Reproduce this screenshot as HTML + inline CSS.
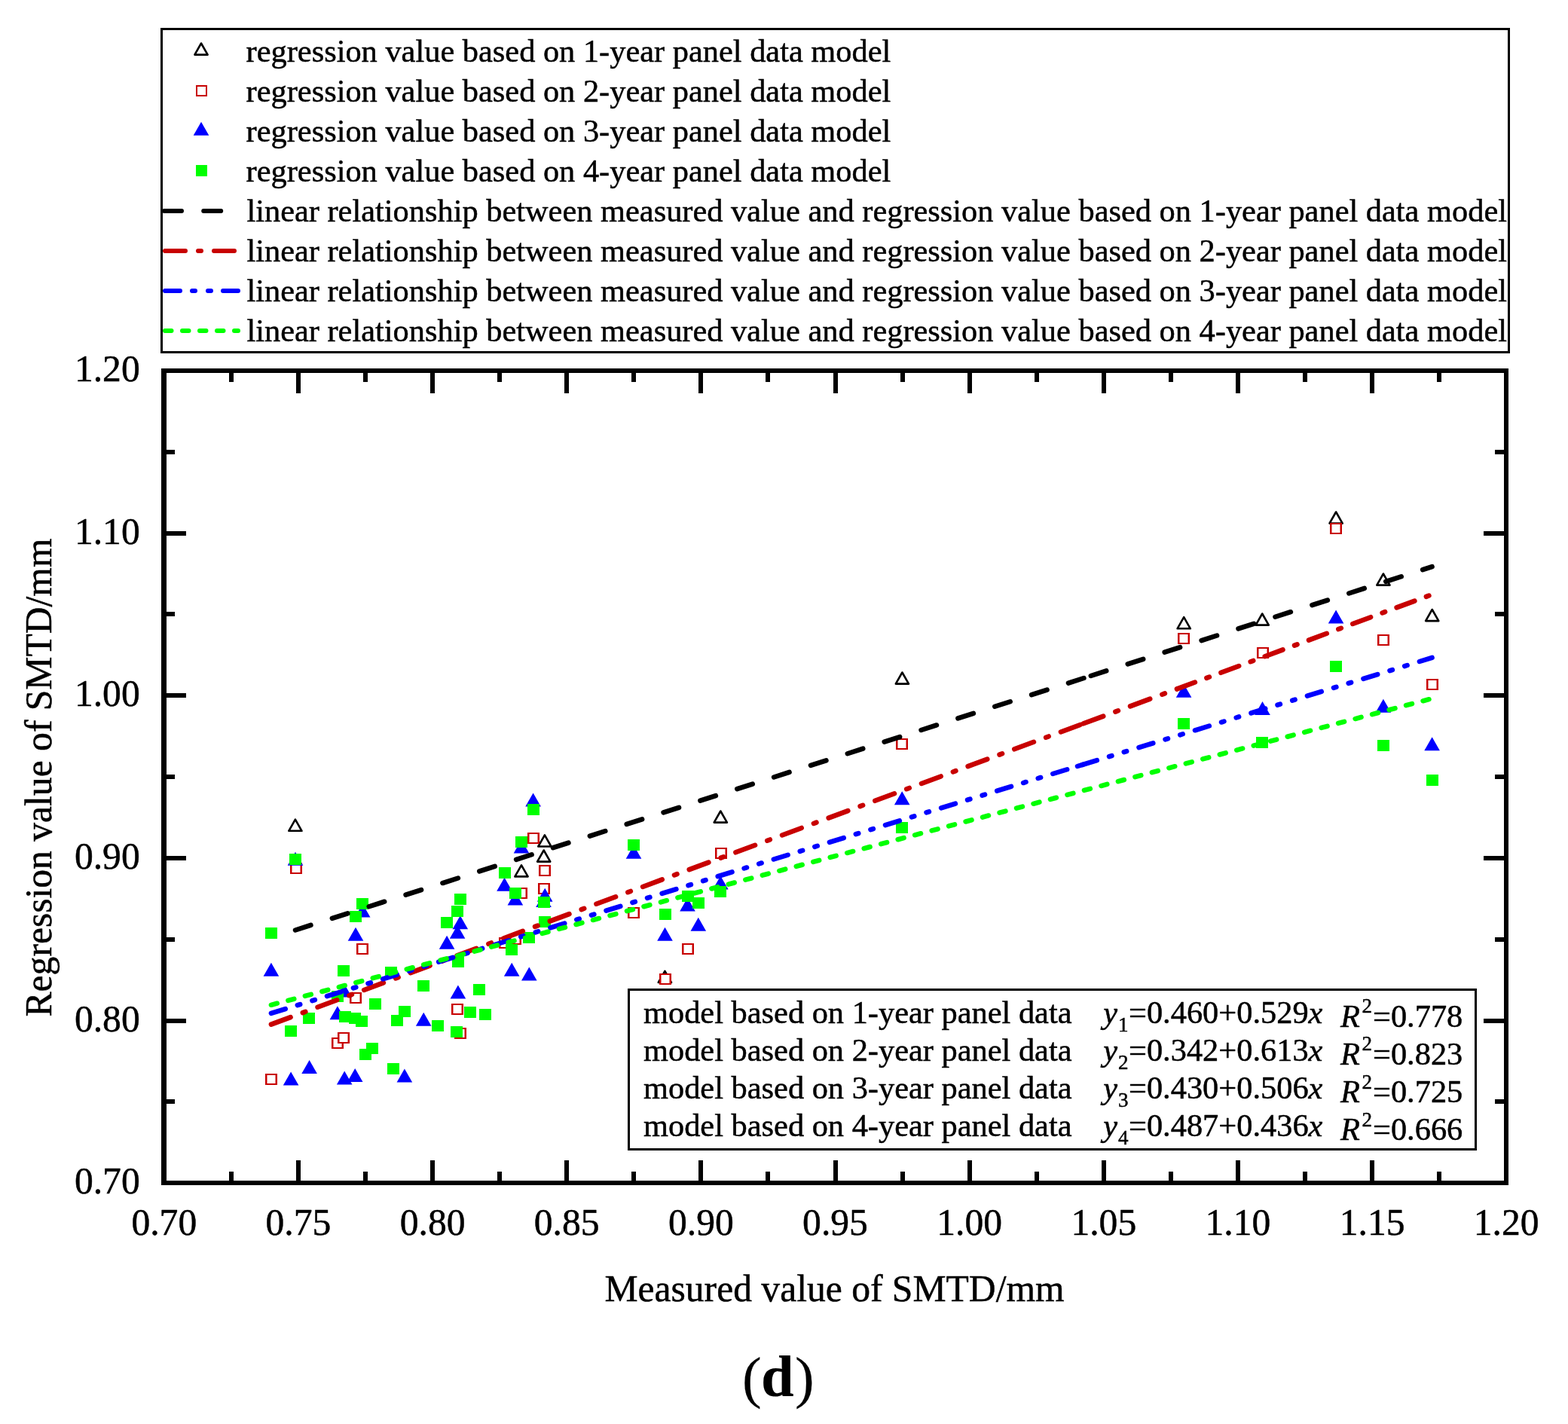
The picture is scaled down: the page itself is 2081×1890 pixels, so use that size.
<!DOCTYPE html>
<html lang="en"><head><meta charset="utf-8"><title>Regression value of SMTD (d)</title>
<style>html,body{margin:0;padding:0;background:#fff}svg{display:block}text{font-family:"Liberation Serif","Times New Roman",serif;fill:#000;stroke:#000;stroke-width:0.5px;stroke-linejoin:round}</style>
</head><body>
<svg width="2081" height="1890" viewBox="0 0 2081 1890">
<rect width="2081" height="1890" fill="#fff"/>
<g id="markers" shape-rendering="crispEdges">
<path d="M391.9 1087.7L400.5 1102.8H383.3Z" fill="#fff" stroke="#000" stroke-width="2.6" stroke-linejoin="round" shape-rendering="geometricPrecision"/>
<path d="M692.0 1148.3L700.6 1163.4H683.4Z" fill="#fff" stroke="#000" stroke-width="2.6" stroke-linejoin="round" shape-rendering="geometricPrecision"/>
<path d="M721.7 1128.5L730.3 1143.6H713.1Z" fill="#fff" stroke="#000" stroke-width="2.6" stroke-linejoin="round" shape-rendering="geometricPrecision"/>
<path d="M722.9 1108.4L731.5 1123.5H714.3Z" fill="#fff" stroke="#000" stroke-width="2.6" stroke-linejoin="round" shape-rendering="geometricPrecision"/>
<path d="M882.4 1288.9L891.0 1304.0H873.8Z" fill="#fff" stroke="#000" stroke-width="2.6" stroke-linejoin="round" shape-rendering="geometricPrecision"/>
<path d="M956.3 1076.5L964.9 1091.6H947.7Z" fill="#fff" stroke="#000" stroke-width="2.6" stroke-linejoin="round" shape-rendering="geometricPrecision"/>
<path d="M1197.4 892.5L1206.0 907.6H1188.8Z" fill="#fff" stroke="#000" stroke-width="2.6" stroke-linejoin="round" shape-rendering="geometricPrecision"/>
<path d="M1571.2 819.2L1579.8 834.3H1562.6Z" fill="#fff" stroke="#000" stroke-width="2.6" stroke-linejoin="round" shape-rendering="geometricPrecision"/>
<path d="M1675.2 814.5L1683.8 829.6H1666.6Z" fill="#fff" stroke="#000" stroke-width="2.6" stroke-linejoin="round" shape-rendering="geometricPrecision"/>
<path d="M1773.1 679.5L1781.7 694.6H1764.5Z" fill="#fff" stroke="#000" stroke-width="2.6" stroke-linejoin="round" shape-rendering="geometricPrecision"/>
<path d="M1835.9 761.5L1844.5 776.6H1827.3Z" fill="#fff" stroke="#000" stroke-width="2.6" stroke-linejoin="round" shape-rendering="geometricPrecision"/>
<path d="M1900.7 809.0L1909.3 824.1H1892.1Z" fill="#fff" stroke="#000" stroke-width="2.6" stroke-linejoin="round" shape-rendering="geometricPrecision"/>
<rect x="352" y="1425" width="16" height="15" fill="#c80000"/><rect x="354.5" y="1427" width="11" height="11" fill="#fff" shape-rendering="geometricPrecision"/>
<rect x="385" y="1145" width="16" height="15" fill="#c80000"/><rect x="387.5" y="1147" width="11" height="11" fill="#fff" shape-rendering="geometricPrecision"/>
<rect x="440" y="1377" width="16" height="15" fill="#c80000"/><rect x="442.5" y="1379" width="11" height="11" fill="#fff" shape-rendering="geometricPrecision"/>
<rect x="448" y="1370" width="16" height="15" fill="#c80000"/><rect x="450.5" y="1372" width="11" height="11" fill="#fff" shape-rendering="geometricPrecision"/>
<rect x="464" y="1317" width="16" height="15" fill="#c80000"/><rect x="466.5" y="1319" width="11" height="11" fill="#fff" shape-rendering="geometricPrecision"/>
<rect x="473" y="1252" width="16" height="15" fill="#c80000"/><rect x="475.5" y="1254" width="11" height="11" fill="#fff" shape-rendering="geometricPrecision"/>
<rect x="599" y="1332" width="16" height="15" fill="#c80000"/><rect x="601.5" y="1334" width="11" height="11" fill="#fff" shape-rendering="geometricPrecision"/>
<rect x="603" y="1364" width="16" height="15" fill="#c80000"/><rect x="605.5" y="1366" width="11" height="11" fill="#fff" shape-rendering="geometricPrecision"/>
<rect x="662" y="1244" width="16" height="15" fill="#c80000"/><rect x="664.5" y="1246" width="11" height="11" fill="#fff" shape-rendering="geometricPrecision"/>
<rect x="676" y="1239" width="16" height="15" fill="#c80000"/><rect x="678.5" y="1241" width="11" height="11" fill="#fff" shape-rendering="geometricPrecision"/>
<rect x="684" y="1178" width="16" height="15" fill="#c80000"/><rect x="686.5" y="1180" width="11" height="11" fill="#fff" shape-rendering="geometricPrecision"/>
<rect x="700" y="1105" width="16" height="15" fill="#c80000"/><rect x="702.5" y="1107" width="11" height="11" fill="#fff" shape-rendering="geometricPrecision"/>
<rect x="715" y="1148" width="16" height="15" fill="#c80000"/><rect x="717.5" y="1150" width="11" height="11" fill="#fff" shape-rendering="geometricPrecision"/>
<rect x="714" y="1172" width="16" height="15" fill="#c80000"/><rect x="716.5" y="1174" width="11" height="11" fill="#fff" shape-rendering="geometricPrecision"/>
<rect x="833" y="1204" width="16" height="15" fill="#c80000"/><rect x="835.5" y="1206" width="11" height="11" fill="#fff" shape-rendering="geometricPrecision"/>
<rect x="875" y="1292" width="16" height="15" fill="#c80000"/><rect x="877.5" y="1294" width="11" height="11" fill="#fff" shape-rendering="geometricPrecision"/>
<rect x="905" y="1252" width="16" height="15" fill="#c80000"/><rect x="907.5" y="1254" width="11" height="11" fill="#fff" shape-rendering="geometricPrecision"/>
<rect x="949" y="1125" width="16" height="15" fill="#c80000"/><rect x="951.5" y="1127" width="11" height="11" fill="#fff" shape-rendering="geometricPrecision"/>
<rect x="1189" y="980" width="16" height="15" fill="#c80000"/><rect x="1191.5" y="982" width="11" height="11" fill="#fff" shape-rendering="geometricPrecision"/>
<rect x="1563" y="840" width="16" height="15" fill="#c80000"/><rect x="1565.5" y="842" width="11" height="11" fill="#fff" shape-rendering="geometricPrecision"/>
<rect x="1668" y="859" width="16" height="15" fill="#c80000"/><rect x="1670.5" y="861" width="11" height="11" fill="#fff" shape-rendering="geometricPrecision"/>
<rect x="1765" y="694" width="16" height="15" fill="#c80000"/><rect x="1767.5" y="696" width="11" height="11" fill="#fff" shape-rendering="geometricPrecision"/>
<rect x="1828" y="842" width="16" height="15" fill="#c80000"/><rect x="1830.5" y="844" width="11" height="11" fill="#fff" shape-rendering="geometricPrecision"/>
<rect x="1893" y="901" width="16" height="15" fill="#c80000"/><rect x="1895.5" y="903" width="11" height="11" fill="#fff" shape-rendering="geometricPrecision"/>
<path d="M359.9 1277.8L370.2 1295.8H349.6Z" fill="#0000ff" shape-rendering="geometricPrecision"/>
<path d="M386.1 1422.6L396.4 1440.6H375.8Z" fill="#0000ff" shape-rendering="geometricPrecision"/>
<path d="M392.0 1130.8L402.3 1148.8H381.7Z" fill="#0000ff" shape-rendering="geometricPrecision"/>
<path d="M410.6 1407.1L420.9 1425.1H400.3Z" fill="#0000ff" shape-rendering="geometricPrecision"/>
<path d="M447.9 1335.2L458.2 1353.2H437.6Z" fill="#0000ff" shape-rendering="geometricPrecision"/>
<path d="M457.2 1421.6L467.5 1439.6H446.9Z" fill="#0000ff" shape-rendering="geometricPrecision"/>
<path d="M456.8 1305.4L467.1 1323.4H446.5Z" fill="#0000ff" shape-rendering="geometricPrecision"/>
<path d="M471.2 1418.1L481.5 1436.1H460.9Z" fill="#0000ff" shape-rendering="geometricPrecision"/>
<path d="M472.0 1230.8L482.3 1248.8H461.7Z" fill="#0000ff" shape-rendering="geometricPrecision"/>
<path d="M481.2 1199.6L491.5 1217.6H470.9Z" fill="#0000ff" shape-rendering="geometricPrecision"/>
<path d="M536.9 1418.6L547.2 1436.6H526.6Z" fill="#0000ff" shape-rendering="geometricPrecision"/>
<path d="M562.2 1343.8L572.5 1361.8H551.9Z" fill="#0000ff" shape-rendering="geometricPrecision"/>
<path d="M593.1 1241.8L603.4 1259.8H582.8Z" fill="#0000ff" shape-rendering="geometricPrecision"/>
<path d="M607.1 1227.8L617.4 1245.8H596.8Z" fill="#0000ff" shape-rendering="geometricPrecision"/>
<path d="M607.9 1307.6L618.2 1325.6H597.6Z" fill="#0000ff" shape-rendering="geometricPrecision"/>
<path d="M610.8 1215.3L621.1 1233.3H600.5Z" fill="#0000ff" shape-rendering="geometricPrecision"/>
<path d="M669.5 1164.8L679.8 1182.8H659.2Z" fill="#0000ff" shape-rendering="geometricPrecision"/>
<path d="M679.2 1277.8L689.5 1295.8H668.9Z" fill="#0000ff" shape-rendering="geometricPrecision"/>
<path d="M683.9 1183.6L694.2 1201.6H673.6Z" fill="#0000ff" shape-rendering="geometricPrecision"/>
<path d="M692.0 1114.5L702.3 1132.5H681.7Z" fill="#0000ff" shape-rendering="geometricPrecision"/>
<path d="M702.3 1283.5L712.6 1301.5H692.0Z" fill="#0000ff" shape-rendering="geometricPrecision"/>
<path d="M707.6 1052.5L717.9 1070.5H697.3Z" fill="#0000ff" shape-rendering="geometricPrecision"/>
<path d="M723.2 1178.8L733.5 1196.8H712.9Z" fill="#0000ff" shape-rendering="geometricPrecision"/>
<path d="M721.5 1186.0L731.8 1204.0H711.2Z" fill="#0000ff" shape-rendering="geometricPrecision"/>
<path d="M841.0 1121.8L851.3 1139.8H830.7Z" fill="#0000ff" shape-rendering="geometricPrecision"/>
<path d="M882.5 1230.8L892.8 1248.8H872.2Z" fill="#0000ff" shape-rendering="geometricPrecision"/>
<path d="M912.5 1191.6L922.8 1209.6H902.2Z" fill="#0000ff" shape-rendering="geometricPrecision"/>
<path d="M926.8 1217.8L937.1 1235.8H916.5Z" fill="#0000ff" shape-rendering="geometricPrecision"/>
<path d="M956.3 1162.4L966.6 1180.4H946.0Z" fill="#0000ff" shape-rendering="geometricPrecision"/>
<path d="M1197.2 1050.3L1207.5 1068.3H1186.9Z" fill="#0000ff" shape-rendering="geometricPrecision"/>
<path d="M1571.1 907.8L1581.4 925.8H1560.8Z" fill="#0000ff" shape-rendering="geometricPrecision"/>
<path d="M1675.5 931.1L1685.8 949.1H1665.2Z" fill="#0000ff" shape-rendering="geometricPrecision"/>
<path d="M1773.1 809.6L1783.4 827.6H1762.8Z" fill="#0000ff" shape-rendering="geometricPrecision"/>
<path d="M1835.9 927.8L1846.2 945.8H1825.6Z" fill="#0000ff" shape-rendering="geometricPrecision"/>
<path d="M1900.6 978.3L1910.9 996.3H1890.3Z" fill="#0000ff" shape-rendering="geometricPrecision"/>
<rect x="352" y="1231" width="16" height="15" fill="#00ff00"/>
<rect x="378" y="1361" width="16" height="15" fill="#00ff00"/>
<rect x="384" y="1133" width="16" height="15" fill="#00ff00"/>
<rect x="402" y="1344" width="16" height="15" fill="#00ff00"/>
<rect x="440" y="1315" width="16" height="15" fill="#00ff00"/>
<rect x="448" y="1281" width="16" height="15" fill="#00ff00"/>
<rect x="450" y="1342" width="16" height="15" fill="#00ff00"/>
<rect x="463" y="1344" width="16" height="15" fill="#00ff00"/>
<rect x="464" y="1209" width="16" height="15" fill="#00ff00"/>
<rect x="472" y="1348" width="16" height="15" fill="#00ff00"/>
<rect x="473" y="1192" width="16" height="15" fill="#00ff00"/>
<rect x="477" y="1392" width="16" height="15" fill="#00ff00"/>
<rect x="486" y="1384" width="16" height="15" fill="#00ff00"/>
<rect x="490" y="1325" width="16" height="15" fill="#00ff00"/>
<rect x="511" y="1283" width="16" height="15" fill="#00ff00"/>
<rect x="514" y="1411" width="16" height="15" fill="#00ff00"/>
<rect x="519" y="1347" width="16" height="15" fill="#00ff00"/>
<rect x="529" y="1335" width="16" height="15" fill="#00ff00"/>
<rect x="554" y="1301" width="16" height="15" fill="#00ff00"/>
<rect x="573" y="1354" width="16" height="15" fill="#00ff00"/>
<rect x="585" y="1217" width="16" height="15" fill="#00ff00"/>
<rect x="598" y="1362" width="16" height="15" fill="#00ff00"/>
<rect x="599" y="1202" width="16" height="15" fill="#00ff00"/>
<rect x="600" y="1269" width="16" height="15" fill="#00ff00"/>
<rect x="603" y="1186" width="16" height="15" fill="#00ff00"/>
<rect x="616" y="1336" width="16" height="15" fill="#00ff00"/>
<rect x="628" y="1306" width="16" height="15" fill="#00ff00"/>
<rect x="636" y="1339" width="16" height="15" fill="#00ff00"/>
<rect x="662" y="1151" width="16" height="15" fill="#00ff00"/>
<rect x="671" y="1253" width="16" height="15" fill="#00ff00"/>
<rect x="676" y="1178" width="16" height="15" fill="#00ff00"/>
<rect x="684" y="1110" width="16" height="15" fill="#00ff00"/>
<rect x="694" y="1237" width="16" height="15" fill="#00ff00"/>
<rect x="700" y="1067" width="16" height="15" fill="#00ff00"/>
<rect x="714" y="1190" width="16" height="15" fill="#00ff00"/>
<rect x="715" y="1216" width="16" height="15" fill="#00ff00"/>
<rect x="833" y="1114" width="16" height="15" fill="#00ff00"/>
<rect x="875" y="1206" width="16" height="15" fill="#00ff00"/>
<rect x="905" y="1182" width="16" height="15" fill="#00ff00"/>
<rect x="919" y="1191" width="16" height="15" fill="#00ff00"/>
<rect x="948" y="1176" width="16" height="15" fill="#00ff00"/>
<rect x="1189" y="1091" width="16" height="15" fill="#00ff00"/>
<rect x="1563" y="953" width="16" height="15" fill="#00ff00"/>
<rect x="1667" y="978" width="16" height="15" fill="#00ff00"/>
<rect x="1765" y="877" width="16" height="15" fill="#00ff00"/>
<rect x="1828" y="982" width="16" height="15" fill="#00ff00"/>
<rect x="1893" y="1028" width="16" height="15" fill="#00ff00"/>
</g>
<g id="fits" fill="none" stroke-width="6.5" stroke-linecap="round">
<path d="M392 1234.5L1447.8 897.0" stroke="#000" stroke-dasharray="21.5 29.79"/>
<path d="M1447.8 897.0L1900.6 752.2" stroke="#000" stroke-dasharray="21.5 29.87"/>
<path d="M359.9 1359.6L1438 960.3" stroke="#c80000" stroke-dasharray="27.4 17.27 3.8 17.27"/>
<path d="M1438 960.3L1562.1 914.4" stroke="#c80000" stroke-dasharray="28 17.15 3.8 17.15"/>
<path d="M1562.1 914.4L1900.6 789.0" stroke="#c80000" stroke-dasharray="25.4 16.5 3.8 16.47"/>
<path d="M359.9 1344.8L1430 1017.0" stroke="#0000ff" stroke-dasharray="19.7 16.8 3.6 16.9 3.6 16.9"/>
<path d="M1430 1017.0L1437 1014.9" stroke="#0000ff"/>
<path d="M1437 1014.9L1900.6 872.9" stroke="#0000ff" stroke-dasharray="19.7 16.95 3.6 17 3.6 17.05"/>
<path d="M359.9 1333.8L1900.6 927.1" stroke="#00ff00" stroke-dasharray="8.2 15.05"/>
</g>
<g id="axes" fill="#000" shape-rendering="crispEdges">
<rect x="214" y="489" width="1788" height="6"/>
<rect x="214" y="1567" width="1788" height="6"/>
<rect x="214" y="489" width="7" height="1084"/>
<rect x="1996" y="489" width="6" height="1084"/>
<rect x="304" y="495" width="6" height="12"/>
<rect x="304" y="1555" width="6" height="12"/>
<rect x="393" y="495" width="6" height="27"/>
<rect x="393" y="1540" width="6" height="27"/>
<rect x="482" y="495" width="6" height="12"/>
<rect x="482" y="1555" width="6" height="12"/>
<rect x="571" y="495" width="6" height="27"/>
<rect x="571" y="1540" width="6" height="27"/>
<rect x="660" y="495" width="6" height="12"/>
<rect x="660" y="1555" width="6" height="12"/>
<rect x="749" y="495" width="6" height="27"/>
<rect x="749" y="1540" width="6" height="27"/>
<rect x="838" y="495" width="6" height="12"/>
<rect x="838" y="1555" width="6" height="12"/>
<rect x="927" y="495" width="6" height="27"/>
<rect x="927" y="1540" width="6" height="27"/>
<rect x="1016" y="495" width="6" height="12"/>
<rect x="1016" y="1555" width="6" height="12"/>
<rect x="1106" y="495" width="6" height="27"/>
<rect x="1106" y="1540" width="6" height="27"/>
<rect x="1195" y="495" width="6" height="12"/>
<rect x="1195" y="1555" width="6" height="12"/>
<rect x="1284" y="495" width="6" height="27"/>
<rect x="1284" y="1540" width="6" height="27"/>
<rect x="1373" y="495" width="6" height="12"/>
<rect x="1373" y="1555" width="6" height="12"/>
<rect x="1462" y="495" width="6" height="27"/>
<rect x="1462" y="1540" width="6" height="27"/>
<rect x="1551" y="495" width="6" height="12"/>
<rect x="1551" y="1555" width="6" height="12"/>
<rect x="1640" y="495" width="6" height="27"/>
<rect x="1640" y="1540" width="6" height="27"/>
<rect x="1729" y="495" width="6" height="12"/>
<rect x="1729" y="1555" width="6" height="12"/>
<rect x="1818" y="495" width="6" height="27"/>
<rect x="1818" y="1540" width="6" height="27"/>
<rect x="1907" y="495" width="6" height="12"/>
<rect x="1907" y="1555" width="6" height="12"/>
<rect x="221" y="1459" width="11" height="6"/>
<rect x="1984" y="1459" width="12" height="6"/>
<rect x="221" y="1352" width="26" height="6"/>
<rect x="1969" y="1352" width="27" height="6"/>
<rect x="221" y="1244" width="11" height="6"/>
<rect x="1984" y="1244" width="12" height="6"/>
<rect x="221" y="1136" width="26" height="6"/>
<rect x="1969" y="1136" width="27" height="6"/>
<rect x="221" y="1028" width="11" height="6"/>
<rect x="1984" y="1028" width="12" height="6"/>
<rect x="221" y="920" width="26" height="6"/>
<rect x="1969" y="920" width="27" height="6"/>
<rect x="221" y="812" width="11" height="6"/>
<rect x="1984" y="812" width="12" height="6"/>
<rect x="221" y="705" width="26" height="6"/>
<rect x="1969" y="705" width="27" height="6"/>
<rect x="221" y="597" width="11" height="6"/>
<rect x="1984" y="597" width="12" height="6"/>
</g>
<g id="xticks" font-size="49.6" text-anchor="middle">
<text x="217.8" y="1638.7">0.70</text>
<text x="395.9" y="1638.7">0.75</text>
<text x="574.1" y="1638.7">0.80</text>
<text x="752.2" y="1638.7">0.85</text>
<text x="930.4" y="1638.7">0.90</text>
<text x="1108.5" y="1638.7">0.95</text>
<text x="1286.6" y="1638.7">1.00</text>
<text x="1464.8" y="1638.7">1.05</text>
<text x="1642.9" y="1638.7">1.10</text>
<text x="1821.1" y="1638.7">1.15</text>
<text x="1999.2" y="1638.7">1.20</text>
</g>
<g id="yticks" font-size="49.6" text-anchor="end">
<text x="185.7" y="1584.1">0.70</text>
<text x="185.7" y="1368.5">0.80</text>
<text x="185.7" y="1152.9">0.90</text>
<text x="185.7" y="937.3">1.00</text>
<text x="185.7" y="721.7">1.10</text>
<text x="185.7" y="506.1">1.20</text>
</g>
<text x="1107.5" y="1726.7" font-size="49.6" text-anchor="middle">Measured value of SMTD/mm</text>
<text transform="translate(68 1032) rotate(-90)" font-size="49.6" text-anchor="middle">Regression value of SMTD/mm</text>
<text x="985" y="1854" font-size="77" style="stroke-width:.2px">(</text>
<text x="1010" y="1853.3" font-size="78.5" font-weight="bold" style="stroke-width:.2px">d</text>
<text x="1055" y="1854" font-size="77" style="stroke-width:.2px">)</text>
<g id="legend">
<rect x="214.5" y="38.5" width="1788" height="429" fill="#fff" stroke="#000" stroke-width="3" shape-rendering="crispEdges"/>
<text x="326.6" y="82.3" font-size="42.4">regression value based on 1-year panel data model</text>
<text x="326.6" y="135.3" font-size="42.4">regression value based on 2-year panel data model</text>
<text x="326.6" y="188.3" font-size="42.4">regression value based on 3-year panel data model</text>
<text x="326.6" y="241.4" font-size="42.4">regression value based on 4-year panel data model</text>
<text x="327.4" y="294.4" font-size="42.4">linear relationship between measured value and regression value based on 1-year panel data model</text>
<text x="327.4" y="347.4" font-size="42.4">linear relationship between measured value and regression value based on 2-year panel data model</text>
<text x="327.4" y="400.4" font-size="42.4">linear relationship between measured value and regression value based on 3-year panel data model</text>
<text x="327.4" y="453.4" font-size="42.4">linear relationship between measured value and regression value based on 4-year panel data model</text>
<g shape-rendering="crispEdges">
<path d="M267.0 57.5L275.6 72.6H258.4Z" fill="#fff" stroke="#000" stroke-width="2.6" stroke-linejoin="round" shape-rendering="geometricPrecision"/>
<rect x="261" y="114" width="13" height="13" fill="#fff" stroke="#c80000" stroke-width="2"/>
<path d="M267.0 161.8L277.3 179.8H256.7Z" fill="#0000ff" shape-rendering="geometricPrecision"/>
<rect x="260" y="219" width="15" height="15" fill="#00ff00"/>
</g>
<g fill="none" stroke-width="6" stroke-linecap="round">
<path d="M218 280H316" stroke="#000" stroke-dasharray="23 29.2"/>
<path d="M219 333H316" stroke="#c80000" stroke-dasharray="27 17 4 17"/>
<path d="M219 386H316" stroke="#0000ff" stroke-dasharray="20 16 4 17 4 16"/>
<path d="M219 439H316" stroke="#00ff00" stroke-dasharray="8.5 14.5"/>
</g>
</g>
<g id="inset">
<rect x="834.5" y="1313.5" width="1124" height="212" fill="#fff" stroke="#000" stroke-width="3" shape-rendering="crispEdges"/>
<text x="854" y="1357.7" font-size="42.4">model based on 1-year panel data</text>
<text x="1464.2" y="1357.7" font-size="42.4" font-style="italic">y</text>
<text x="1484" y="1369.0" font-size="27">1</text>
<text x="1498" y="1357.7" font-size="42.4">=0.460+0.529<tspan font-style="italic">x</tspan></text>
<text x="1779" y="1362.5" font-size="42.4" font-style="italic">R</text>
<text x="1807.5" y="1344.4" font-size="27">2</text>
<text x="1822" y="1362.5" font-size="42.4">=0.778</text>
<text x="854" y="1407.7" font-size="42.4">model based on 2-year panel data</text>
<text x="1464.2" y="1407.7" font-size="42.4" font-style="italic">y</text>
<text x="1484" y="1419.0" font-size="27">2</text>
<text x="1498" y="1407.7" font-size="42.4">=0.342+0.613<tspan font-style="italic">x</tspan></text>
<text x="1779" y="1412.5" font-size="42.4" font-style="italic">R</text>
<text x="1807.5" y="1394.4" font-size="27">2</text>
<text x="1822" y="1412.5" font-size="42.4">=0.823</text>
<text x="854" y="1457.8" font-size="42.4">model based on 3-year panel data</text>
<text x="1464.2" y="1457.8" font-size="42.4" font-style="italic">y</text>
<text x="1484" y="1469.1" font-size="27">3</text>
<text x="1498" y="1457.8" font-size="42.4">=0.430+0.506<tspan font-style="italic">x</tspan></text>
<text x="1779" y="1462.6" font-size="42.4" font-style="italic">R</text>
<text x="1807.5" y="1444.5" font-size="27">2</text>
<text x="1822" y="1462.6" font-size="42.4">=0.725</text>
<text x="854" y="1507.9" font-size="42.4">model based on 4-year panel data</text>
<text x="1464.2" y="1507.9" font-size="42.4" font-style="italic">y</text>
<text x="1484" y="1519.2" font-size="27">4</text>
<text x="1498" y="1507.9" font-size="42.4">=0.487+0.436<tspan font-style="italic">x</tspan></text>
<text x="1779" y="1512.7" font-size="42.4" font-style="italic">R</text>
<text x="1807.5" y="1494.6" font-size="27">2</text>
<text x="1822" y="1512.7" font-size="42.4">=0.666</text>
</g>
</svg>
</body></html>
